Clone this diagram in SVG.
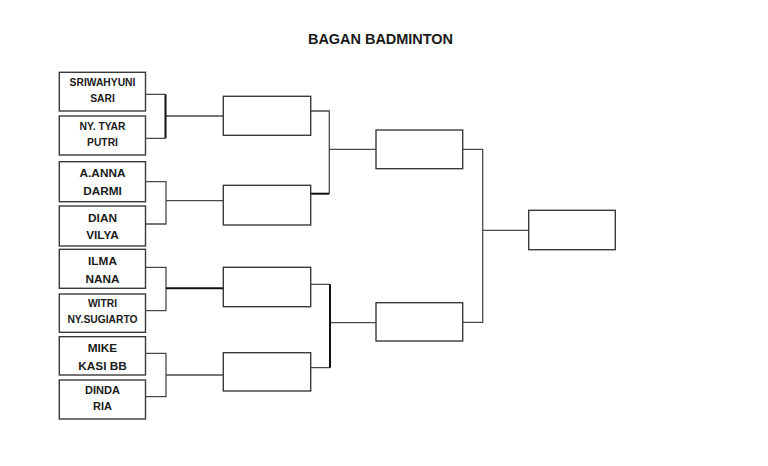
<svg xmlns="http://www.w3.org/2000/svg" width="768" height="466" viewBox="0 0 768 466">
<style>
.box{fill:#fff;stroke:#3a3a3a;stroke-width:1.4}
.t{font-family:"Liberation Sans",Arial,sans-serif;font-weight:bold;fill:#1a1a1a;text-anchor:middle}
.s{font-size:10.3px}
.m{font-size:11px}
.l{font-size:11.8px}
.c{fill:none;stroke:#4a4a4a;stroke-width:1.3}
.k{fill:none;stroke:#111;stroke-width:2}
</style>
<rect width="768" height="466" fill="#fff"/>
<text x="380.5" y="43.5" class="t" font-size="14.5" textLength="145">BAGAN BADMINTON</text>
<g id="connectors">
<path class="c" d="M145.5 94.3H165.5M145.5 138.3H165.5M165.5 116H223.3"/>
<path class="k" d="M165.5 94.3V138.3"/>
<path class="c" d="M145.5 181.7H166V224H145.5M166 200.7H223.3"/>
<path class="c" d="M145.5 267.3H166V310.7H145.5"/>
<path class="k" d="M166 288.3H223.3"/>
<path class="c" d="M145.5 353.3H166V396.7H145.5M166 375H223.3"/>
<path class="c" d="M310.7 111H329.3V193.7M329.3 149.3H376"/>
<path class="k" d="M310.7 193.7H329.3"/>
<path class="c" d="M310.7 284.3H330M310.7 367.7H330M330 322.7H376"/>
<path class="k" d="M330 284.3V367.7"/>
<path class="c" d="M462.7 149.3H482.7V322.3H462.7M482.7 230.3H528.7"/>
</g>
<g id="p1"><rect class="box" x="59.3" y="72.3" width="86.2" height="38.7"/><text class="t s" x="102.5" y="85.7">SRIWAHYUNI</text><text class="t s" x="102.5" y="102">SARI</text></g>
<g id="p2"><rect class="box" x="59.3" y="116" width="86.2" height="39"/><text class="t s" x="102.5" y="130">NY. TYAR</text><text class="t s" x="102.5" y="145.7">PUTRI</text></g>
<g id="p3"><rect class="box" x="59.3" y="161.7" width="86.2" height="40"/><text class="t l" x="102.5" y="177.3">A.ANNA</text><text class="t l" x="102.5" y="195">DARMI</text></g>
<g id="p4"><rect class="box" x="59.3" y="206" width="86.2" height="40"/><text class="t l" x="102.5" y="221.7">DIAN</text><text class="t l" x="102.5" y="239.3">VILYA</text></g>
<g id="p5"><rect class="box" x="59.3" y="249.3" width="86.2" height="39"/><text class="t l" x="102.5" y="265">ILMA</text><text class="t l" x="102.5" y="282.7">NANA</text></g>
<g id="p6"><rect class="box" x="59.3" y="294" width="86.2" height="38.3"/><text class="t s" x="102.5" y="306.7">WITRI</text><text class="t s" x="102.5" y="323.3">NY.SUGIARTO</text></g>
<g id="p7"><rect class="box" x="59.3" y="336.7" width="86.2" height="38.3"/><text class="t l" x="102.5" y="352">MIKE</text><text class="t l" x="102.5" y="370">KASI BB</text></g>
<g id="p8"><rect class="box" x="59.3" y="380" width="86.2" height="39"/><text class="t m" x="102.5" y="394">DINDA</text><text class="t m" x="102.5" y="410">RIA</text></g>
<g id="r2a"><rect class="box" x="223.3" y="96.3" width="87.4" height="39"/></g>
<g id="r2b"><rect class="box" x="223.3" y="185.3" width="87.4" height="39.7"/></g>
<g id="r2c"><rect class="box" x="223.3" y="267.3" width="87.4" height="39.4"/></g>
<g id="r2d"><rect class="box" x="223.3" y="352.7" width="87.4" height="38.3"/></g>
<g id="r3a"><rect class="box" x="376" y="130" width="86.7" height="38.7"/></g>
<g id="r3b"><rect class="box" x="376" y="302.7" width="86.7" height="38.3"/></g>
<g id="final"><rect class="box" x="528.7" y="210.3" width="86.6" height="39.4"/></g>
</svg>
